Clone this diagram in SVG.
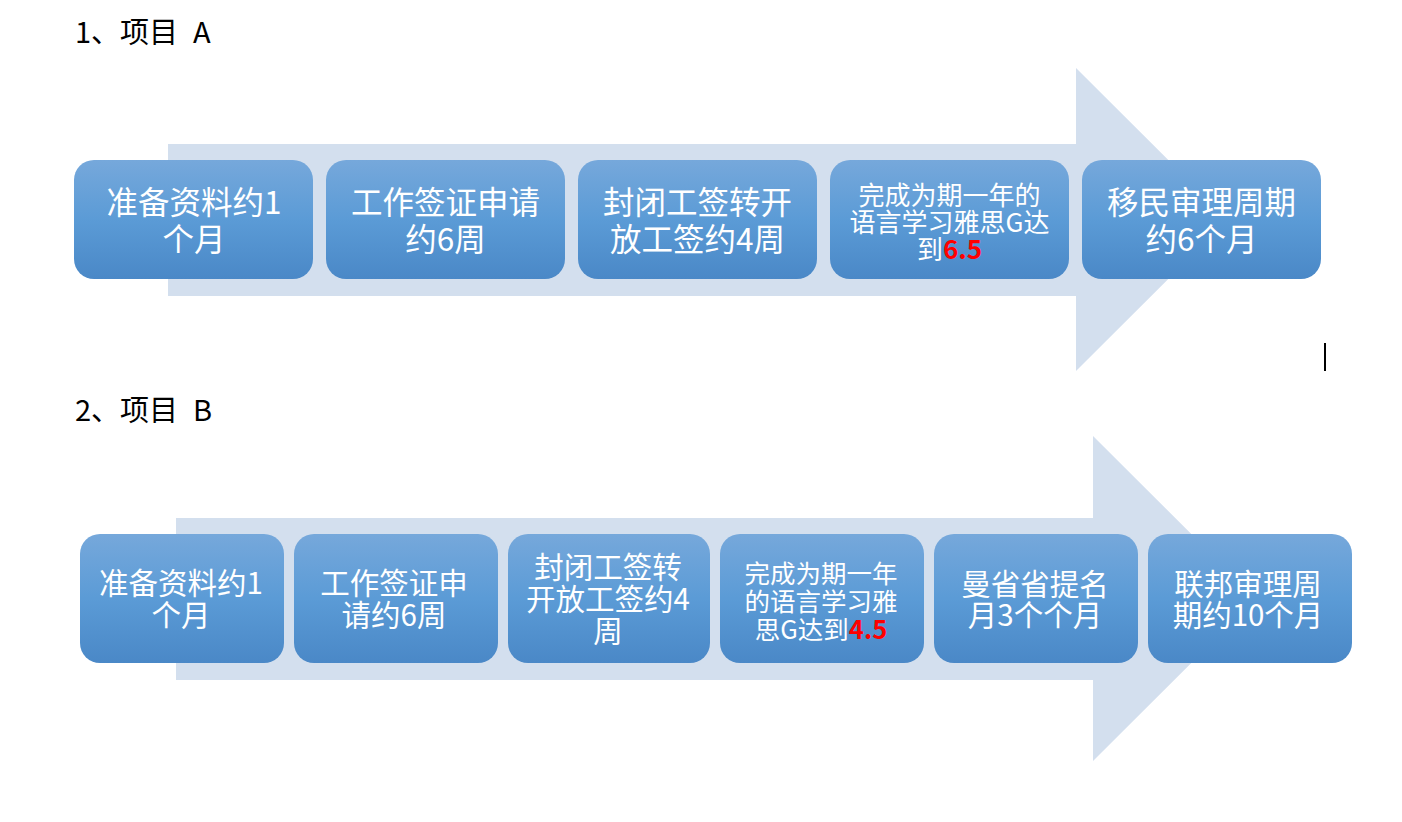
<svg xmlns="http://www.w3.org/2000/svg" width="1402" height="822" viewBox="0 0 1402 822">
<defs>
<linearGradient id="g" x1="0" y1="0" x2="0" y2="1">
<stop offset="0" stop-color="#76a8db"/>
<stop offset="0.5" stop-color="#5b9bd6"/>
<stop offset="1" stop-color="#4a88c7"/>
</linearGradient>
</defs>
<style>
.title{font-family:"Noto Sans CJK SC","Noto Sans",sans-serif;font-size:29px;fill:#000}
.box{fill:url(#g)}
.arrow{fill:#d3dfee}
.t{font-family:"Noto Sans CJK SC",sans-serif;fill:#fff;text-anchor:middle;dominant-baseline:central}
.big{font-size:31.5px}
.mid{font-size:29.5px}
.sm{font-size:26px}
.sm2{font-size:25.5px}
.red{fill:#ff0000;font-weight:bold}
</style>
<rect width="1402" height="822" fill="#fff"/>
<text class="title" x="75" y="43">1、项目<tspan x="193">A</tspan></text>
<text class="title" x="75" y="421">2、项目<tspan x="193">B</tspan></text>
<line x1="1325" y1="343" x2="1325" y2="371" stroke="#000" stroke-width="2"/>

<g id="arrowA">
<polygon class="arrow" points="168,144 1076,144 1076,68 1228,219.5 1076,371 1076,296 168,296"/>
</g>
<g id="arrowB">
<polygon class="arrow" points="176,518 1093,518 1093,436 1256,598.5 1093,761 1093,680 176,680"/>
</g>

<g id="a1"><rect class="box" x="74" y="160" width="239" height="119" rx="20"/>
<text class="t big" x="194" y="200">准备资料约1</text><text class="t big" x="194" y="237">个月</text></g>
<g id="a2"><rect class="box" x="326" y="160" width="239" height="119" rx="20"/>
<text class="t big" x="445.5" y="200">工作签证申请</text><text class="t big" x="445.5" y="237">约6周</text></g>
<g id="a3"><rect class="box" x="578" y="160" width="239" height="119" rx="20"/>
<text class="t big" x="697.5" y="200">封闭工签转开</text><text class="t big" x="697.5" y="237">放工签约4周</text></g>
<g id="a4"><rect class="box" x="830" y="160" width="239" height="119" rx="20"/>
<text class="t sm" x="949.5" y="193">完成为期一年的</text><text class="t sm" x="949.5" y="220">语言学习雅思G达</text><text class="t sm" x="949.5" y="247">到<tspan class="red">6.5</tspan></text></g>
<g id="a5"><rect class="box" x="1082" y="160" width="239" height="119" rx="20"/>
<text class="t big" x="1201.5" y="200">移民审理周期</text><text class="t big" x="1201.5" y="237">约6个月</text></g>

<g id="b1"><rect class="box" x="80" y="534" width="204" height="129" rx="20"/>
<text class="t mid" x="181" y="581">准备资料约1</text><text class="t mid" x="181" y="613">个月</text></g>
<g id="b2"><rect class="box" x="294" y="534" width="204" height="129" rx="20"/>
<text class="t mid" x="394" y="581">工作签证申</text><text class="t mid" x="394" y="613">请约6周</text></g>
<g id="b3"><rect class="box" x="508" y="534" width="202" height="129" rx="20"/>
<text class="t mid" x="608" y="565">封闭工签转</text><text class="t mid" x="608" y="597">开放工签约4</text><text class="t mid" x="608" y="629">周</text></g>
<g id="b4"><rect class="box" x="720" y="534" width="204" height="129" rx="20"/>
<text class="t sm2" x="821" y="571">完成为期一年</text><text class="t sm2" x="821" y="599">的语言学习雅</text><text class="t sm2" x="821" y="627">思G达到<tspan class="red">4.5</tspan></text></g>
<g id="b5"><rect class="box" x="934" y="534" width="204" height="129" rx="20"/>
<text class="t mid" x="1035" y="582">曼省省提名</text><text class="t mid" x="1035" y="613">月3个个月</text></g>
<g id="b6"><rect class="box" x="1148" y="534" width="204" height="129" rx="20"/>
<text class="t mid" x="1248" y="582">联邦审理周</text><text class="t mid" x="1248" y="613">期约10个月</text></g>
</svg>
